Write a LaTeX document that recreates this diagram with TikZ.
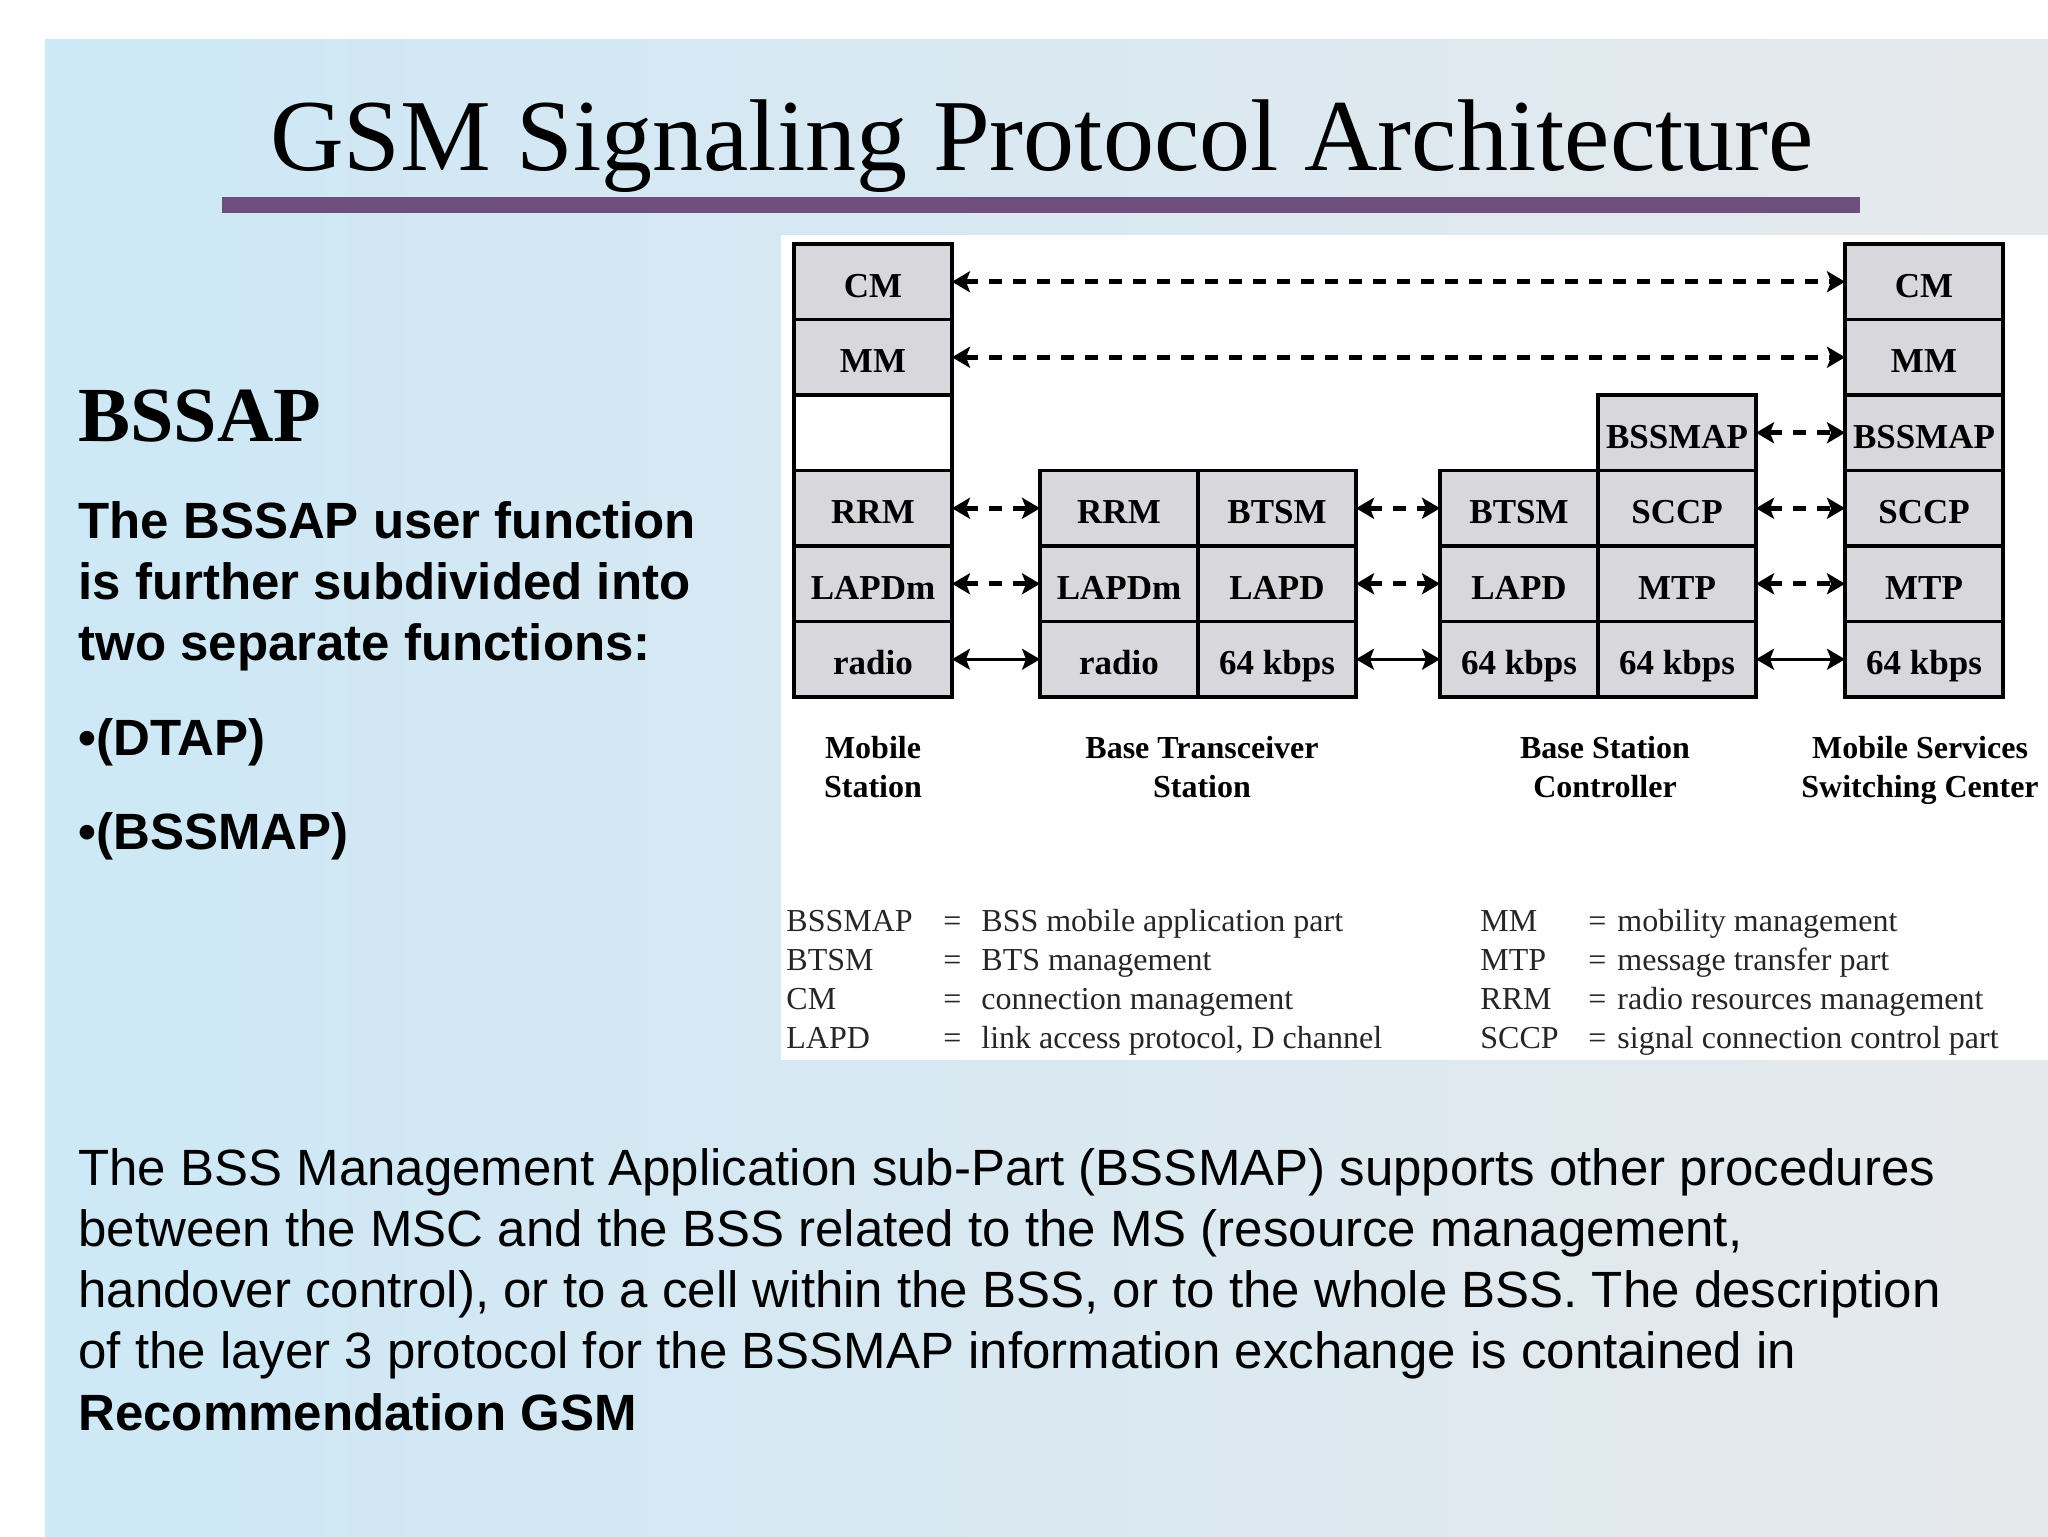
\documentclass[tikz,border=0pt]{standalone}
\usepackage{fontspec}
\setmainfont{Liberation Serif}
\setsansfont{Liberation Sans}
\usetikzlibrary{arrows.meta, positioning}
\definecolor{layergray}{HTML}{D8D7DB}
\definecolor{barpurple}{HTML}{6E4E7C}
\definecolor{skyblue}{HTML}{CDE8F6}
\definecolor{paleside}{HTML}{E6E9EC}

\begin{document}
\begin{tikzpicture}[x=0.5pt, y=-0.5pt,
  layer/.style={draw, line width=1.7pt, fill=layergray, minimum width=79pt,
    minimum height=37.75pt, inner sep=0pt, outer sep=0pt,
    text height=15.6pt, text depth=0pt,
    font=\fontsize{17.5}{20}\selectfont\bfseries},
  peer/.style={{Stealth[length=9pt, width=10.5pt, inset=2pt]}-{Stealth[length=9pt, width=10.5pt, inset=2pt]},
    line width=2.6pt, dash pattern=on 6.5pt off 5.5pt},
  link/.style={{Stealth[length=9pt, width=10.5pt, inset=2pt]}-{Stealth[length=9pt, width=10.5pt, inset=2pt]},
    line width=1.4pt},
  station/.style={anchor=north, align=center, font=\fontsize{16}{19.5}\selectfont\bfseries},
  legend/.style={anchor=base west, inner sep=0pt, text=black!85,
    font=\fontsize{16}{19.5}\selectfont},
  body/.style={anchor=base west, inner sep=0pt,
    font=\sffamily\fontsize{25.5}{30.65}\selectfont},
  lead/.style={body, font=\sffamily\bfseries\fontsize{25.5}{30.65}\selectfont}
]
\useasboundingbox (0,0) rectangle (2048,1536);

% slide background
\fill[white] (0,0) rectangle (2048,1536);
\shade[left color=skyblue, middle color=white, right color=paleside]
  (45,40) rectangle (2048,1536);
\fill[white] (781,235) rectangle (2048,1060);

% title
\node[anchor=base, font=\fontsize{51}{60}\selectfont] (title) at (1042,170)
  {GSM Signaling Protocol Architecture};
\fill[barpurple] (222,197) rectangle (1860,213);

% left column text
\node[anchor=base west, inner sep=0pt, font=\fontsize{39}{46}\selectfont\bfseries]
  (heading) at (78,441) {BSSAP};
\foreach \line [count=\i] in {The BSSAP user function, is further subdivided into,
    two separate functions:}
  \node[lead] (intro-\i) at (78,477+61.3*\i) {\line};
\node[lead] (dtap) at (78,755) {•(DTAP)};
\node[lead] (bssmap) at (78,849) {•(BSSMAP)};

% Mobile Station
\node[layer] (ms-cm) at (873,281.75) {CM};
\node[layer, below=0pt of ms-cm] (ms-mm) {MM};
\node[layer, below=0pt of ms-mm, fill=white] (ms-gap) {};
\node[layer, below=0pt of ms-gap] (ms-rrm) {RRM};
\node[layer, below=0pt of ms-rrm] (ms-lapdm) {LAPDm};
\node[layer, below=0pt of ms-lapdm] (ms-radio) {radio};

% Base Transceiver Station
\node[layer] (bts-rrm) at (1119,508.25) {RRM};
\node[layer, below=0pt of bts-rrm] (bts-lapdm) {LAPDm};
\node[layer, below=0pt of bts-lapdm] (bts-radio) {radio};
\node[layer, right=0pt of bts-rrm] (bts-btsm) {BTSM};
\node[layer, below=0pt of bts-btsm] (bts-lapd) {LAPD};
\node[layer, below=0pt of bts-lapd] (bts-kbps) {64 kbps};

% Base Station Controller
\node[layer] (bsc-btsm) at (1519,508.25) {BTSM};
\node[layer, below=0pt of bsc-btsm] (bsc-lapd) {LAPD};
\node[layer, below=0pt of bsc-lapd] (bsc-kbps) {64 kbps};
\node[layer] (bsc-map) at (1677,432.75) {BSSMAP};
\node[layer, below=0pt of bsc-map] (bsc-sccp) {SCCP};
\node[layer, below=0pt of bsc-sccp] (bsc-mtp) {MTP};
\node[layer, below=0pt of bsc-mtp] (bsc-link) {64 kbps};

% Mobile Services Switching Center
\node[layer] (msc-cm) at (1924,281.75) {CM};
\node[layer, below=0pt of msc-cm] (msc-mm) {MM};
\node[layer, below=0pt of msc-mm] (msc-map) {BSSMAP};
\node[layer, below=0pt of msc-map] (msc-sccp) {SCCP};
\node[layer, below=0pt of msc-sccp] (msc-mtp) {MTP};
\node[layer, below=0pt of msc-mtp] (msc-kbps) {64 kbps};

% peer relations
\draw[peer] (ms-cm) -- (msc-cm);
\draw[peer] (ms-mm) -- (msc-mm);
\draw[peer] (ms-rrm) -- (bts-rrm);
\draw[peer] (ms-lapdm) -- (bts-lapdm);
\draw[link] (ms-radio) -- (bts-radio);
\draw[peer] (bts-btsm) -- (bsc-btsm);
\draw[peer] (bts-lapd) -- (bsc-lapd);
\draw[link] (bts-kbps) -- (bsc-kbps);
\draw[peer] (bsc-map) -- (msc-map);
\draw[peer] (bsc-sccp) -- (msc-sccp);
\draw[peer] (bsc-mtp) -- (msc-mtp);
\draw[link] (bsc-link) -- (msc-kbps);

% station names
\node[station] (lbl-ms) at (873,729) {Mobile\\Station};
\node[station] (lbl-bts) at (1202,729) {Base Transceiver\\Station};
\node[station] (lbl-bsc) at (1605,729) {Base Station\\Controller};
\node[station] (lbl-msc) at (1920,729) {Mobile Services\\Switching Center};

% abbreviations
\foreach \abbr/\desc [count=\i] in {BSSMAP/BSS mobile application part,
    BTSM/BTS management, CM/connection management,
    LAPD/{link access protocol, D channel}}
{
  \node[legend] (key-\i) at (786,892+39*\i) {\abbr};
  \node[legend] (eq-\i) at (943,892+39*\i) {=};
  \node[legend] (def-\i) at (981,892+39*\i) {\desc};
}
\foreach \abbr/\desc [count=\i] in {MM/mobility management,
    MTP/message transfer part, RRM/radio resources management,
    SCCP/signal connection control part}
{
  \node[legend] (rkey-\i) at (1480,892+39*\i) {\abbr};
  \node[legend] (req-\i) at (1588,892+39*\i) {=};
  \node[legend] (rdef-\i) at (1617,892+39*\i) {\desc};
}

% bottom paragraph
\foreach \line [count=\i] in {{The BSS Management Application sub-Part (BSSMAP) supports other procedures},
    {between the MSC and the BSS related to the MS (resource management,},
    {handover control), or to a cell within the BSS, or to the whole BSS. The description},
    {of the layer 3 protocol for the BSSMAP information exchange is contained in},
    {\textbf{Recommendation GSM}}}
  \node[body] (para-\i) at (78,1123.7+61.3*\i) {\line};
\end{tikzpicture}
\end{document}
